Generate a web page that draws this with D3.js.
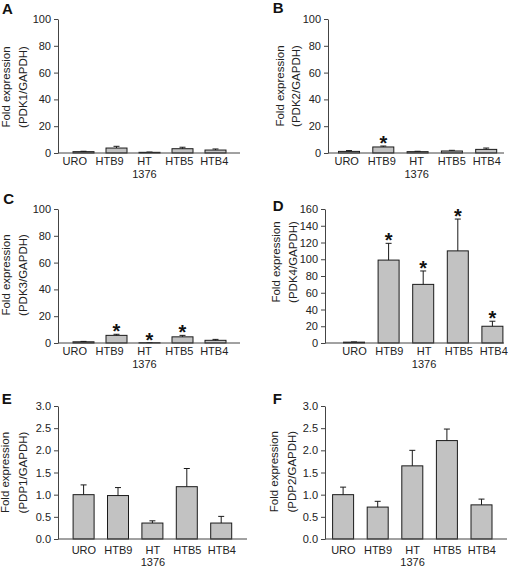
<!DOCTYPE html>
<html>
<head>
<meta charset="utf-8">
<script src="https://cdn.jsdelivr.net/npm/d3@7"></script>
<style>
	body { margin: 0; background: #fff; }
	svg { display: block; font-family: Arial, "Liberation Sans", sans-serif; }
</style>
</head>
<body>
<div id="chart"></div>
<script>
// cell lines, same order in every panel
var categories = ['URO', 'HTB9', 'HT\n1376', 'HTB5', 'HTB4'];

// fold expression (mean), upper error and significance marks
var pdk1 = [1.0, 3.7, 0.5, 3.2, 2.2];
var pdk1Err = [0.3, 1.3, 0.2, 1.1, 0.8];
var pdk1Sig = [0, 0, 0, 0, 0];

var pdk2 = [1.2, 4.5, 1.0, 1.5, 2.7];
var pdk2Err = [0.6, 0.7, 0.3, 0.5, 1.0];
var pdk2Sig = [0, 1, 0, 0, 0];

var pdk3 = [0.9, 5.7, 0.2, 4.6, 2.0];
var pdk3Err = [0.3, 0.8, 0.1, 1.1, 0.7];
var pdk3Sig = [0, 1, 1, 1, 0];

var pdk4 = [1.0, 99, 70, 110, 20];
var pdk4Err = [0.3, 20, 16, 38, 6];
var pdk4Sig = [0, 1, 1, 1, 1];

var pdp1 = [1.0, 0.98, 0.36, 1.18, 0.36];
var pdp1Err = [0.22, 0.18, 0.05, 0.41, 0.15];
var pdp1Sig = [0, 0, 0, 0, 0];

var pdp2 = [1.0, 0.72, 1.65, 2.22, 0.77];
var pdp2Err = [0.17, 0.13, 0.35, 0.26, 0.13];
var pdp2Sig = [0, 0, 0, 0, 0];

// y tick labels
var ticksPDK = [0, 20, 40, 60, 80, 100];
var ticksPDK4 = [0, 20, 40, 60, 80, 100, 120, 140, 160];
var ticksPDP = [0, 0.5, 1.0, 1.5, 2.0, 2.5, 3.0];

var W = 520, H = 566;

var svg = d3.select('#chart').append('svg')
	.attr('width', W)
	.attr('height', H);

// panel layout (positions only)
var panels = [
	{letter: 'A', name: 'PDK1', v: pdk1, e: pdk1Err, s: pdk1Sig, ticks: ticksPDK, fmt: 'd',
		ox: 0, oy: 0, ax: 58, top: 19, bot: 153, end: 240,
		bar0: 83.5, barStep: 33, lab0: 74.8, labStep: 34.85, labGap: 11.5, lineGap: 13.5,
		yl: 87, ylx: [10, 27], lx: 2, ly: 13.5},
	{letter: 'B', name: 'PDK2', v: pdk2, e: pdk2Err, s: pdk2Sig, ticks: ticksPDK, fmt: 'd',
		ox: 260, oy: 0, ax: 68, top: 19, bot: 153, end: 244,
		bar0: 89, barStep: 34.3, lab0: 86.7, labStep: 35, labGap: 11.5, lineGap: 13.5,
		yl: 86, ylx: [23.5, 40], lx: 12.7, ly: 13.3},
	{letter: 'C', name: 'PDK3', v: pdk3, e: pdk3Err, s: pdk3Sig, ticks: ticksPDK, fmt: 'd',
		ox: 0, oy: 190, ax: 58, top: 19, bot: 153, end: 240,
		bar0: 83.5, barStep: 33, lab0: 74.8, labStep: 34.85, labGap: 11.5, lineGap: 13.5,
		yl: 85, ylx: [10, 27], lx: 3.3, ly: 14.3},
	{letter: 'D', name: 'PDK4', v: pdk4, e: pdk4Err, s: pdk4Sig, ticks: ticksPDK4, fmt: 'd',
		ox: 260, oy: 190, ax: 65, top: 19, bot: 153, end: 244,
		bar0: 94, barStep: 34.6, lab0: 94.5, labStep: 34.8, labGap: 11.5, lineGap: 13.5,
		yl: 72, ylx: [20, 36.5], lx: 12.7, ly: 20.7},
	{letter: 'E', name: 'PDP1', v: pdp1, e: pdp1Err, s: pdp1Sig, ticks: ticksPDP, fmt: '.1f',
		ox: 0, oy: 380, ax: 58, top: 26, bot: 159, end: 247,
		bar0: 83.6, barStep: 34.4, lab0: 83.9, labStep: 34.5, labGap: 14.5, lineGap: 12.5,
		yl: 92.5, ylx: [9, 27], lx: 1.7, ly: 24},
	{letter: 'F', name: 'PDP2', v: pdp2, e: pdp2Err, s: pdp2Sig, ticks: ticksPDP, fmt: '.1f',
		ox: 260, oy: 380, ax: 65, top: 26, bot: 159, end: 247,
		bar0: 83.1, barStep: 34.6, lab0: 83.4, labStep: 34.6, labGap: 14.5, lineGap: 12.5,
		yl: 91.7, ylx: [18, 35.5], lx: 12.7, ly: 24}
];

var barWidth = 21;

panels.forEach(function(p){
	var g = svg.append('g')
		.attr('transform', 'translate(' + p.ox + ',' + p.oy + ')');

	var y = d3.scaleLinear()
		.domain([0, d3.max(p.ticks)])
		.range([p.bot, p.top]);

	// bar centres and label centres are placed separately in the original
	var x = d3.scalePoint()
		.domain(categories)
		.range([p.bar0, p.bar0 + p.barStep * (categories.length - 1)]);
	var xl = d3.scalePoint()
		.domain(categories)
		.range([p.lab0, p.lab0 + p.labStep * (categories.length - 1)]);

	var rows = categories.map(function(c, i){
		return {cat: c, v: p.v[i], e: p.e[i], s: p.s[i]};
	});

	// bars
	g.selectAll('rect.bar')
		.data(rows)
		.enter().append('rect')
		.attr('class', 'bar')
		.attr('x', function(d){ return x(d.cat) - barWidth / 2; })
		.attr('y', function(d){ return y(d.v); })
		.attr('width', barWidth)
		.attr('height', function(d){ return y(0) - y(d.v); })
		.attr('fill', '#c2c2c2')
		.attr('stroke', '#1a1a1a')
		.attr('stroke-width', 1);

	// upper error bars
	var err = g.selectAll('g.err')
		.data(rows)
		.enter().append('g')
		.attr('class', 'err')
		.attr('stroke', '#1a1a1a')
		.attr('stroke-width', 1);
	err.append('line')
		.attr('x1', function(d){ return x(d.cat); })
		.attr('x2', function(d){ return x(d.cat); })
		.attr('y1', function(d){ return y(d.v); })
		.attr('y2', function(d){ return y(d.v + d.e); });
	err.append('line')
		.attr('x1', function(d){ return x(d.cat) - 3; })
		.attr('x2', function(d){ return x(d.cat) + 3; })
		.attr('y1', function(d){ return y(d.v + d.e); })
		.attr('y2', function(d){ return y(d.v + d.e); });

	// significance stars
	g.selectAll('text.star')
		.data(rows.filter(function(d){ return d.s; }))
		.enter().append('text')
		.attr('class', 'star')
		.attr('x', function(d){ return x(d.cat); })
		.attr('y', function(d){ return y(d.v + d.e) + 4; })
		.attr('text-anchor', 'middle')
		.style('font-size', '20px')
		.style('font-weight', 'bold')
		.attr('fill', '#111')
		.text('*');

	// y axis
	var yAxis = g.append('g')
		.attr('transform', 'translate(' + p.ax + ',0)')
		.call(d3.axisLeft(y)
			.tickValues(p.ticks)
			.tickFormat(d3.format(p.fmt))
			.tickSize(4)
			.tickSizeOuter(0)
			.tickPadding(3));
	yAxis.selectAll('path, line').attr('stroke', '#444');
	yAxis.selectAll('text')
		.style('font-size', '11px')
		.style('font-family', 'Arial, "Liberation Sans", sans-serif')
		.attr('fill', '#222');

	// x axis line
	g.append('line')
		.attr('x1', p.ax)
		.attr('x2', p.end)
		.attr('y1', y(0))
		.attr('y2', y(0))
		.attr('stroke', '#444')
		.attr('stroke-width', 1);

	// category labels
	var cat = g.selectAll('text.cat')
		.data(categories)
		.enter().append('text')
		.attr('class', 'cat')
		.attr('text-anchor', 'middle')
		.style('font-size', '11px')
		.attr('fill', '#222')
		.attr('y', y(0) + p.labGap);
	cat.selectAll('tspan')
		.data(function(d){ return d.split('\n'); })
		.enter().append('tspan')
		.attr('x', function(){ return xl(d3.select(this.parentNode).datum()); })
		.attr('dy', function(d, i){ return i ? p.lineGap : 0; })
		.text(function(d){ return d; });

	// y label, two lines
	['Fold expression', '(' + p.name + '/GAPDH)'].forEach(function(t, i){
		g.append('text')
			.attr('transform', 'translate(' + p.ylx[i] + ',' + p.yl + ') rotate(-90)')
			.attr('text-anchor', 'middle')
			.style('font-size', '11.5px')
			.attr('fill', '#222')
			.text(t);
	});

	// panel letter
	g.append('text')
		.attr('x', p.lx)
		.attr('y', p.ly)
		.style('font-size', '15px')
		.style('font-weight', 'bold')
		.attr('fill', '#111')
		.text(p.letter);
});
</script>
</body>
</html>
